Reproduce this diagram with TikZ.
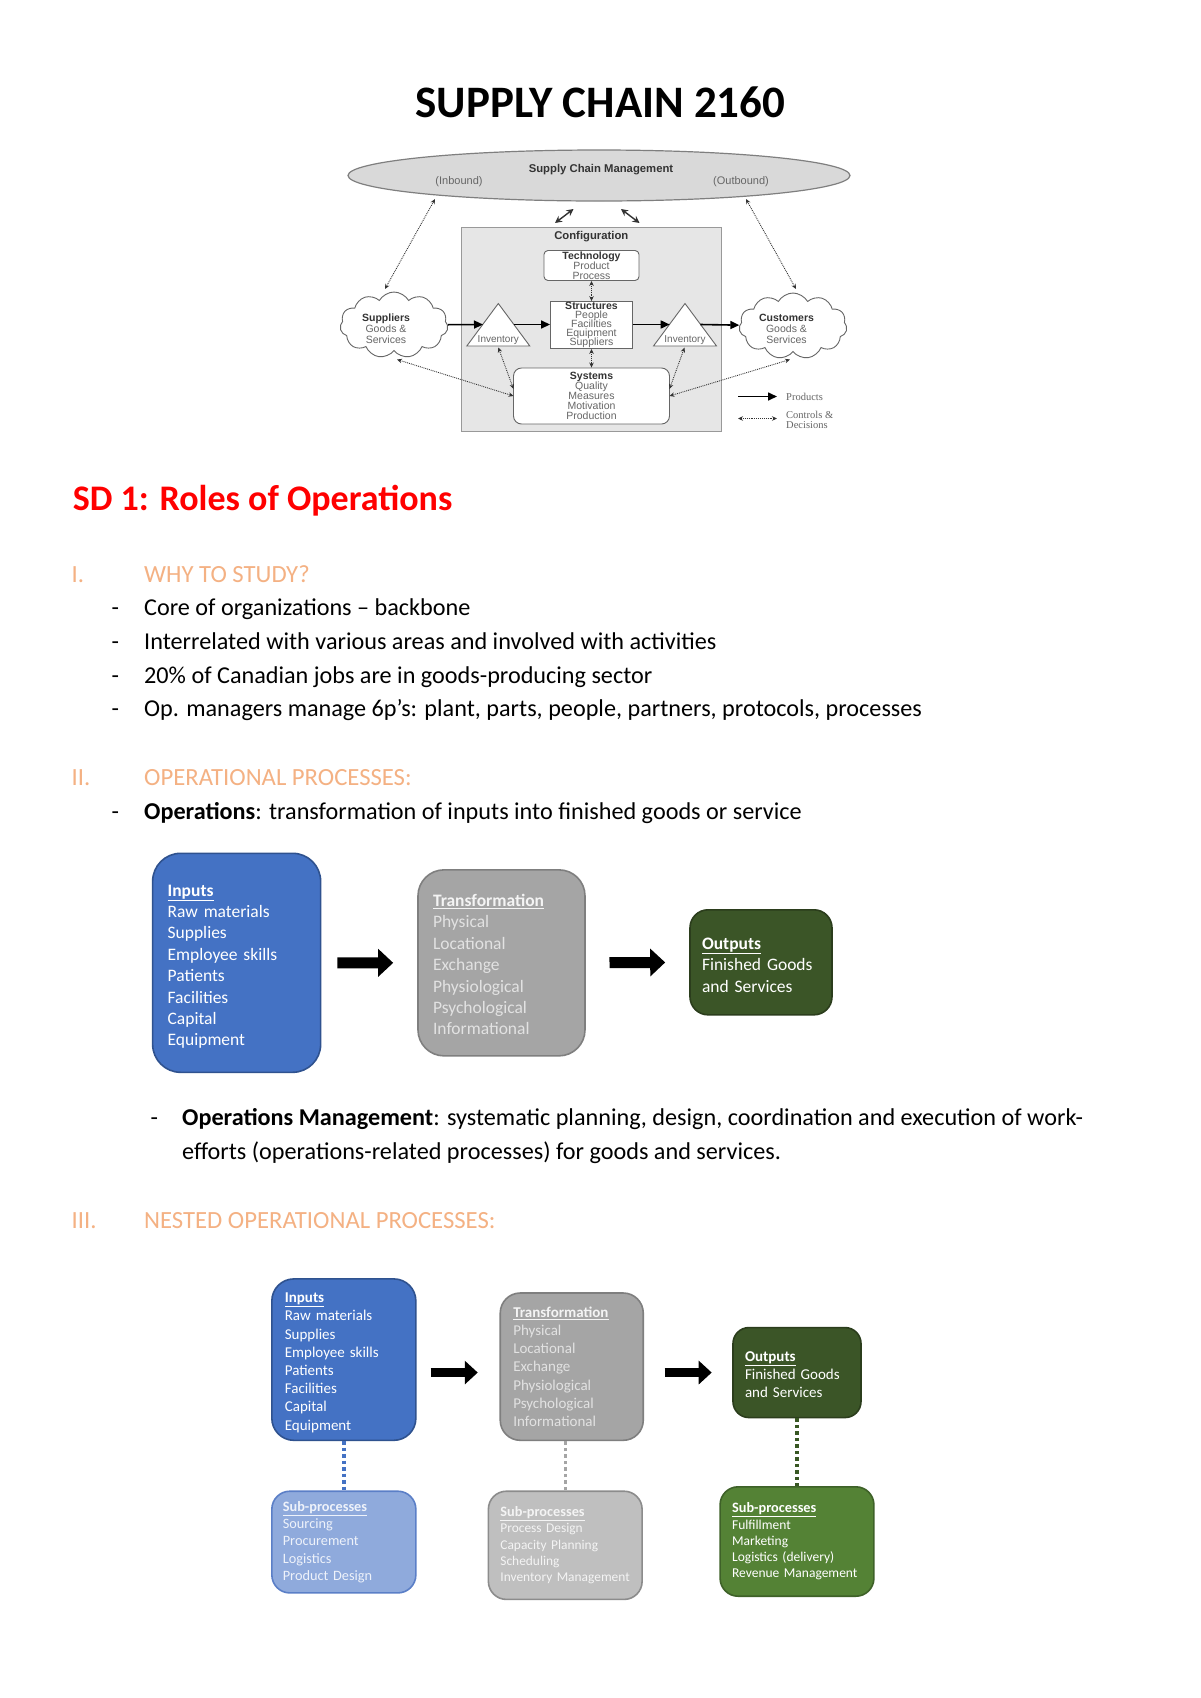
\documentclass[tikz,border=0pt]{standalone}
\usepackage{fontspec}
\setmainfont{Carlito}
\newfontfamily\arialf{Liberation Sans}
\newfontfamily\serff{Liberation Serif}
\usetikzlibrary{arrows.meta,shapes.symbols,shapes.geometric}
\definecolor{hdor}{HTML}{F4B183}
\definecolor{inblue}{HTML}{4472C4}
\definecolor{inblueb}{HTML}{2F528F}
\definecolor{trgray}{HTML}{A5A5A5}
\definecolor{trgrayb}{HTML}{7F7F7F}
\definecolor{trtext}{HTML}{E2E2E2}
\definecolor{trtitle}{HTML}{F4F4F4}
\definecolor{outgreen}{HTML}{3B5527}
\definecolor{outgreenb}{HTML}{2B3D1C}
\definecolor{sbblue}{HTML}{8FAADC}
\definecolor{sbblueb}{HTML}{5B7FC7}
\definecolor{sbtext}{HTML}{EEF2FA}
\definecolor{sggray}{HTML}{BFBFBF}
\definecolor{sggrayb}{HTML}{8C8C8C}
\definecolor{sggreen}{HTML}{548235}
\definecolor{sggreenb}{HTML}{3E6128}
\definecolor{dotgreen}{HTML}{385723}
\definecolor{scmfill}{HTML}{D9D9D9}
\definecolor{cfgfill}{HTML}{E6E6E6}
\definecolor{dtxt}{HTML}{333333}
\definecolor{ltxt}{HTML}{666666}
\newcommand\tbt[1]{{\bfseries\color{dtxt}#1}}
\newcommand\tightls{\lineskiplimit -20pt\relax}
\begin{document}
\begin{tikzpicture}[x=1pt,y=-1pt,
  body/.style={font=\fontsize{24.2}{28}\selectfont, anchor=base west, inner sep=0},
  hd/.style={body, font=\fontsize{24.7}{28}\selectfont, text=hdor},
  proc/.style={align=left, inner ysep=0, line width=1.6pt, text=white},
  dg/.style={font=\arialf\fontsize{10.5}{9.6}\selectfont\tightls, text=ltxt, align=center, inner sep=0},
  dgb/.style={font=\arialf\bfseries\fontsize{11.3}{11}\selectfont, text=dtxt, inner sep=0},
  wbox/.style={dg, draw=gray!80!black, fill=white, line width=0.9pt},
  cloudn/.style={cloud, cloud puffs=11, cloud puff arc=120, aspect=1.6, draw=gray!80!black, fill=white, line width=0.9pt, minimum width=108, minimum height=66, inner sep=0},
  cldt/.style={dg, font=\arialf\fontsize{10.5}{11}\selectfont\tightls},
  prod/.style={line width=1.6pt, -{Triangle[length=9pt,width=8pt]}},
  ctl/.style={line width=0.9pt, densely dotted, color=dtxt, {Stealth[length=5pt,width=4.5pt]}-{Stealth[length=5pt,width=4.5pt]}},
  smar/.style={line width=1.4pt, color=dtxt, {Stealth[length=7pt,width=7pt]}-{Stealth[length=7pt,width=7pt]}},
  leg/.style={font=\serff\fontsize{10.5}{9.8}\selectfont, text=ltxt, inner sep=0},
  blk1/.style={line width=11pt, -{Triangle[length=15pt,width=27pt]}},
  blk2/.style={line width=9.5pt, -{Triangle[length=13pt,width=23pt]}},
  dotc/.style={line width=3.5pt, dash pattern=on 3.5pt off 3pt}
]
\useasboundingbox (0,0) rectangle (1200,1698);
\fill[white] (0,0) rectangle (1200,1698);

% Title
\node[font=\fontsize{45}{54}\selectfont\bfseries, anchor=base, inner sep=0] (title) at (600.5,117) {SUPPLY CHAIN 2160};

% ---------- supply chain figure ----------
\node[ellipse, draw=trgrayb, fill=scmfill, line width=1.2pt, minimum width=502, minimum height=51, inner sep=0] (scm) at (599,175.5) {};
\node[dgb] (scmt) at (601,170) {Supply Chain Management};
\node[dg, font=\arialf\fontsize{11}{11}\selectfont] (inb) at (459,181.5) {(Inbound)};
\node[dg, font=\arialf\fontsize{11}{11}\selectfont] (outb) at (741,181.5) {(Outbound)};

\node[draw=gray!80, fill=cfgfill, line width=1pt, minimum width=260, minimum height=204, inner sep=0] (cfg) at (591.5,329.5) {};
\node[dgb] (cfgt) at (591.3,236.5) {Configuration};

\node[wbox, rounded corners=4pt, minimum width=95, minimum height=30, font=\arialf\fontsize{10.5}{9.8}\selectfont\tightls] (tech) at (591.5,265.5) {\tbt{Technology}\\Product\\Process};
\node[wbox, minimum width=82, minimum height=47, font=\arialf\fontsize{10.5}{9.2}\selectfont\tightls] (str) at (591.5,325) {\tbt{Structures}\\People\\Facilities\\Equipment\\Suppliers};
\node[wbox, rounded corners=8pt, minimum width=156, minimum height=56, font=\arialf\fontsize{10.5}{10}\selectfont\tightls] (sys) at (591.5,396) {\tbt{Systems}\\Quality\\Measures\\Motivation\\Production};

\draw[fill=white, draw=gray!80!black, line width=0.9pt] (466.8,346) -- (498.3,303.5) -- (529.8,346) -- cycle;
\node[dg, font=\arialf\fontsize{10}{10}\selectfont] (invL) at (498.3,340.5) {Inventory};
\draw[fill=white, draw=gray!80!black, line width=0.9pt] (653.5,346) -- (685,303.5) -- (716.5,346) -- cycle;
\node[dg, font=\arialf\fontsize{10}{10}\selectfont] (invR) at (685,340.5) {Inventory};

\node[cloudn] (sup) at (394,325) {};
\node[cldt] (supt) at (386,328.5) {\tbt{Suppliers}\\Goods \&\\Services};
\node[cloudn] (cust) at (793,326) {};
\node[cldt] (custt) at (786.5,328.5) {\tbt{Customers}\\Goods \&\\Services};

\coordinate (tLa) at (483,324.5);
\coordinate (tLb) at (514,324.5);
\coordinate (tRa) at (669.7,324.5);
\coordinate (tRb) at (700.3,324.5);
\draw[prod] (sup) -- (tLa);
\draw[prod] (tLb) -- (str.west |- tLb);
\draw[prod] (str.east |- tRa) -- (tRa);
\draw[prod] (tRb) -- (cust);

\coordinate (e1) at (435,199);
\coordinate (s1) at (385,289);
\coordinate (e2) at (746,199);
\coordinate (c1) at (796,289);
\draw[ctl] (e1) -- (s1);
\draw[ctl] (e2) -- (c1);
\draw[ctl] (tech) -- (str);
\draw[ctl] (str) -- (sys);
\coordinate (tLc) at (498.3,347.5);
\coordinate (sLa) at (513.5,389);
\coordinate (tRc) at (684.5,347.5);
\coordinate (sRa) at (669.5,389);
\draw[ctl] (tLc) -- (sLa);
\draw[ctl] (tRc) -- (sRa);
\coordinate (s2) at (397,359.5);
\coordinate (sLb) at (513.5,396);
\coordinate (c2) at (790,359.5);
\coordinate (sRb) at (669.5,396);
\draw[ctl] (s2) -- (sLb);
\draw[ctl] (c2) -- (sRb);

\coordinate (m1a) at (555,223);
\coordinate (m1b) at (573.5,209);
\coordinate (m2a) at (621,209);
\coordinate (m2b) at (639.5,223);
\draw[smar] (m1a) -- (m1b);
\draw[smar] (m2a) -- (m2b);

\coordinate (lp1) at (738,396.5);
\coordinate (lp2) at (777,396.5);
\draw[prod] (lp1) -- (lp2);
\node[leg, anchor=west] (lpt) at (786,396.5) {Products};
\coordinate (lc1) at (738,418.5);
\coordinate (lc2) at (777,418.5);
\draw[ctl] (lc1) -- (lc2);
\node[leg, anchor=west, align=left] (lct) at (786,420) {Controls \&\\Decisions};

% ---------- text ----------
\node[font=\fontsize{36}{43}\selectfont\bfseries, text=red, anchor=base west, inner sep=0] (sd1) at (72.6,510) {SD 1: Roles of Operations};

\node[hd] (h1n) at (71.5,582) {I.};
\node[hd] (h1) at (144,582) {WHY TO STUDY?};
\node[body] (d1) at (111.5,615) {-};
\node[body] (b1) at (144,615) {Core of organizations – backbone};
\node[body] (d2) at (111.5,649) {-};
\node[body] (b2) at (144,649) {Interrelated with various areas and involved with activities};
\node[body] (d3) at (111.5,683) {-};
\node[body] (b3) at (144,683) {20\% of Canadian jobs are in goods-producing sector};
\node[body] (d4) at (111.5,716) {-};
\node[body] (b4) at (144,716) {Op. managers manage 6p’s: plant, parts, people, partners, protocols, processes};

\node[hd] (h2n) at (71.5,785) {II.};
\node[hd] (h2) at (144,785) {OPERATIONAL PROCESSES:};
\node[body] (d5) at (111.5,819) {-};
\node[body] (b5) at (144,819) {\textbf{Operations}: transformation of inputs into finished goods or service};

\node[body] (d6) at (150.5,1125) {-};
\node[body] (b6) at (182,1125) {\textbf{Operations Management}: systematic planning, design, coordination and execution of work-};
\node[body] (b6b) at (182,1159.5) {efforts (operations-related processes) for goods and services.};

\node[hd] (h3n) at (71.5,1228) {III.};
\node[hd] (h3) at (144,1228) {NESTED OPERATIONAL PROCESSES:};

% ---------- process diagram 1 ----------
\node[proc, fill=inblue, draw=inblueb, rounded corners=28pt, minimum height=219, text width=138, inner xsep=15, font=\fontsize{17.5}{21.4}\selectfont] (inp) at (236.65,962.8) {\rule{0pt}{19pt}\underline{\textbf{Inputs}}\\Raw materials\\Supplies\\Employee skills\\Patients\\Facilities\\Capital\\Equipment};
\node[proc, fill=trgray, draw=trgrayb, text=trtext, rounded corners=26pt, minimum height=186, text width=137, inner xsep=15, font=\fontsize{17.5}{21.4}\selectfont] (tr) at (501.5,962.85) {\rule{0pt}{16pt}{\color{trtitle}\underline{\textbf{Transformation}}}\\Physical\\Locational\\Exchange\\Physiological\\Psychological\\Informational};
\node[proc, fill=outgreen, draw=outgreenb, rounded corners=18pt, minimum height=105, text width=118, inner xsep=12, font=\fontsize{17.5}{21.4}\selectfont] (out) at (761,962.3) {\rule{0pt}{17pt}\underline{\textbf{Outputs}}\\Finished Goods\\and Services};
\draw[blk1, shorten <=16pt, shorten >=24pt] (inp.east) -- (tr.west);
\draw[blk1, shorten <=23.7pt, shorten >=24pt] (tr.east) -- (out.west);

% ---------- process diagram 2 ----------
\node[proc, fill=inblue, draw=inblueb, rounded corners=22pt, minimum height=161.4, text width=118, inner xsep=13, font=\fontsize{15}{18.2}\selectfont] (inp2) at (343.85,1359.6) {\rule{0pt}{16pt}\underline{\textbf{Inputs}}\\Raw materials\\Supplies\\Employee skills\\Patients\\Facilities\\Capital\\Equipment};
\node[proc, fill=trgray, draw=trgrayb, text=trtext, rounded corners=20pt, minimum height=147.3, text width=117, inner xsep=13, font=\fontsize{15}{18.2}\selectfont] (tr2) at (571.75,1366.65) {{\color{trtitle}\underline{\textbf{Transformation}}}\\Physical\\Locational\\Exchange\\Physiological\\Psychological\\Informational};
\node[proc, fill=outgreen, draw=outgreenb, rounded corners=16pt, minimum height=90, text width=104, inner xsep=12, font=\fontsize{15}{18.4}\selectfont] (out2) at (797,1372.55) {\rule{0pt}{14pt}\underline{\textbf{Outputs}}\\Finished Goods\\and Services};
\draw[blk2, shorten <=14pt, shorten >=21.7pt] (inp2.east |- out2.west) -- (tr2.west |- out2.west);
\draw[blk2, shorten <=20.6pt, shorten >=20.5pt] (tr2.east |- out2.west) -- (out2.west);

\node[proc, fill=sbblue, draw=sbblueb, text=sbtext, rounded corners=18pt, minimum height=101.7, text width=122, inner xsep=11, font=\fontsize{14.3}{17.3}\selectfont] (sb) at (343.85,1542.05) {\underline{\textbf{Sub-processes}}\\Sourcing\\Procurement\\Logistics\\Product~Design};
\node[proc, fill=sggray, draw=sggrayb, text=trtitle, rounded corners=18pt, minimum height=108.2, text width=129.7, inner xsep=12, font=\fontsize{13.4}{16.3}\selectfont] (sg) at (565.25,1545.3) {\underline{\textbf{\fontsize{14.3}{16.3}\selectfont Sub-processes}}\\Process~Design\\Capacity~Planning\\Scheduling\\Inventory~Management};
\node[proc, fill=sggreen, draw=sggreenb, rounded corners=18pt, minimum height=109.4, text width=129.8, inner xsep=12, font=\fontsize{13.5}{16.3}\selectfont] (sgr) at (797,1541.5) {\underline{\textbf{\fontsize{14.3}{16.3}\selectfont Sub-processes}}\\Fulfillment\\Marketing\\Logistics~(delivery)\\Revenue~Management};

\draw[dotc, inblue] (inp2.south) -- (sb.north);
\draw[dotc, trgray] (sg.north) -- (sg.north |- tr2.south);
\draw[dotc, dotgreen] (out2.south) -- (sgr.north);
\end{tikzpicture}
\end{document}
